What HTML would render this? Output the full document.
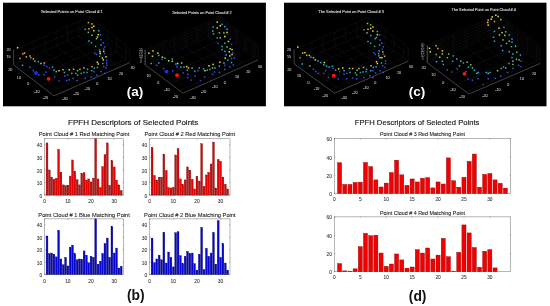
<!DOCTYPE html>
<html lang="en"><head><meta charset="utf-8"><title>FPFH Descriptors of Selected Points</title>
<style>html,body{margin:0;padding:0;background:#fff;}body{width:550px;height:306px;overflow:hidden;}</style>
</head><body>
<svg width="550" height="306" viewBox="0 0 550 306" style="display:block;font-family:'Liberation Sans', sans-serif">
<rect width="550" height="306" fill="#fff"/>
<rect x="3" y="2.7" width="262.9" height="103.6" fill="#000"/>
<rect x="284" y="2.7" width="262.5" height="103.6" fill="#000"/>
<g stroke="#191919" stroke-width="0.45" fill="none">
<path d="M14 57.2L89.8 23.9"/>
<path d="M89.8 23.9L129.8 55.4"/>
<path d="M14 50.0L89.8 16.7"/>
<path d="M89.8 16.7L129.8 48.2"/>
<path d="M14 64.4L89.8 31.1"/>
<path d="M89.8 31.1L129.8 62.6"/>
<path d="M89.8 31.1L89.8 16.7"/>
<path d="M129.8 62.6L129.8 48.2"/>
<path d="M22.19 60.8L22.19 46.4"/>
<path d="M62.19 92.3L22.19 60.8"/>
<path d="M33.52 55.83L33.52 41.43"/>
<path d="M73.52 87.33L33.52 55.83"/>
<path d="M44.85 50.85L44.85 36.45"/>
<path d="M84.85 82.35L44.85 50.85"/>
<path d="M56.18 45.87L56.18 31.47"/>
<path d="M96.18 77.37L56.18 45.87"/>
<path d="M67.51 40.89L67.51 26.49"/>
<path d="M107.51 72.39L67.51 40.89"/>
<path d="M78.85 35.91L78.85 21.51"/>
<path d="M118.85 67.41L78.85 35.91"/>
<path d="M98.84 38.22L98.84 23.82"/>
<path d="M23.04 71.52L98.84 38.22"/>
<path d="M107.72 45.21L107.72 30.81"/>
<path d="M31.92 78.51L107.72 45.21"/>
<path d="M116.6 52.2L116.6 37.8"/>
<path d="M40.8 85.51L116.6 52.2"/>
<path d="M125.48 59.2L125.48 44.8"/>
<path d="M49.68 92.5L125.48 59.2"/>
</g>
<g stroke="#808080" stroke-width="0.5" fill="none">
<path d="M13.6 49.7L13.6 64.9L54 95.9L129.8 62.6"/>
</g>
<text x="10.3" y="70.9" font-size="3.7" fill="#cacaca" text-anchor="middle" font-weight="normal" stroke="#cacaca" stroke-width="0.06">20</text>
<text x="18.9" y="78.5" font-size="3.7" fill="#cacaca" text-anchor="middle" font-weight="normal" stroke="#cacaca" stroke-width="0.06">10</text>
<text x="28.3" y="85.3" font-size="3.7" fill="#cacaca" text-anchor="middle" font-weight="normal" stroke="#cacaca" stroke-width="0.06">0</text>
<text x="36.9" y="92.5" font-size="3.7" fill="#cacaca" text-anchor="middle" font-weight="normal" stroke="#cacaca" stroke-width="0.06">-10</text>
<text x="45.5" y="99.2" font-size="3.7" fill="#cacaca" text-anchor="middle" font-weight="normal" stroke="#cacaca" stroke-width="0.06">-20</text>
<text x="65" y="100.1" font-size="3.7" fill="#cacaca" text-anchor="middle" font-weight="normal" stroke="#cacaca" stroke-width="0.06">-30</text>
<text x="76.2" y="95.2" font-size="3.7" fill="#cacaca" text-anchor="middle" font-weight="normal" stroke="#cacaca" stroke-width="0.06">-20</text>
<text x="87.5" y="90.2" font-size="3.7" fill="#cacaca" text-anchor="middle" font-weight="normal" stroke="#cacaca" stroke-width="0.06">-10</text>
<text x="97.4" y="85.2" font-size="3.7" fill="#cacaca" text-anchor="middle" font-weight="normal" stroke="#cacaca" stroke-width="0.06">0</text>
<text x="109.6" y="79.8" font-size="3.7" fill="#cacaca" text-anchor="middle" font-weight="normal" stroke="#cacaca" stroke-width="0.06">10</text>
<text x="121.1" y="74.5" font-size="3.7" fill="#cacaca" text-anchor="middle" font-weight="normal" stroke="#cacaca" stroke-width="0.06">20</text>
<text x="132.5" y="69.1" font-size="3.7" fill="#cacaca" text-anchor="middle" font-weight="normal" stroke="#cacaca" stroke-width="0.06">30</text>
<text x="8.5" y="50.9" font-size="3.7" fill="#cacaca" text-anchor="middle" font-weight="normal" stroke="#cacaca" stroke-width="0.06">20</text>
<text x="8.5" y="58.3" font-size="3.7" fill="#cacaca" text-anchor="middle" font-weight="normal" stroke="#cacaca" stroke-width="0.06">15</text>
<rect x="22.15" y="53.15" width="1.5" height="1.5" fill="#e8b030"/>
<rect x="23.85" y="52.35" width="1.5" height="1.5" fill="#e8b030"/>
<rect x="19.15" y="57.75" width="1.5" height="1.5" fill="#6ccb62"/>
<rect x="25.55" y="56.15" width="1.5" height="1.5" fill="#e8b030"/>
<rect x="29.15" y="55.25" width="1.5" height="1.5" fill="#e8b030"/>
<rect x="30.15" y="56.95" width="1.5" height="1.5" fill="#27acdc"/>
<rect x="32.65" y="58.15" width="1.5" height="1.5" fill="#e8b030"/>
<rect x="34.15" y="60.35" width="1.5" height="1.5" fill="#6ccb62"/>
<rect x="37.55" y="60.95" width="1.5" height="1.5" fill="#27acdc"/>
<rect x="40.25" y="62.75" width="1.5" height="1.5" fill="#b4d43a"/>
<rect x="43.65" y="62.25" width="1.5" height="1.5" fill="#e8b030"/>
<rect x="43.35" y="64.55" width="1.5" height="1.5" fill="#3650e6"/>
<rect x="46.05" y="65.85" width="1.5" height="1.5" fill="#3650e6"/>
<rect x="48.75" y="67.25" width="1.5" height="1.5" fill="#3650e6"/>
<rect x="51.75" y="66.35" width="1.5" height="1.5" fill="#27acdc"/>
<rect x="53.25" y="69.45" width="1.5" height="1.5" fill="#27acdc"/>
<rect x="55.55" y="70.85" width="1.5" height="1.5" fill="#6ccb62"/>
<rect x="58.25" y="69.95" width="1.5" height="1.5" fill="#efe021"/>
<rect x="62.25" y="69.05" width="1.5" height="1.5" fill="#e8b030"/>
<rect x="63.65" y="71.75" width="1.5" height="1.5" fill="#27acdc"/>
<rect x="68.55" y="69.05" width="1.5" height="1.5" fill="#efe021"/>
<rect x="21.75" y="64.55" width="1.5" height="1.5" fill="#27acdc"/>
<rect x="29.25" y="66.35" width="1.5" height="1.5" fill="#3650e6"/>
<rect x="32.55" y="69.95" width="1.5" height="1.5" fill="#3650e6"/>
<rect x="37.95" y="74.05" width="1.5" height="1.5" fill="#3650e6"/>
<rect x="43.35" y="74.05" width="1.5" height="1.5" fill="#3650e6"/>
<rect x="45.15" y="71.35" width="1.5" height="1.5" fill="#3650e6"/>
<rect x="53.75" y="76.25" width="1.5" height="1.5" fill="#3650e6"/>
<rect x="58.25" y="80.25" width="1.5" height="1.5" fill="#4b32cc"/>
<rect x="64.05" y="75.35" width="1.5" height="1.5" fill="#3650e6"/>
<rect x="68.55" y="78.95" width="1.5" height="1.5" fill="#3650e6"/>
<rect x="16.85" y="46.95" width="1.5" height="1.5" fill="#efe021"/>
<rect x="93.95" y="52.45" width="1.5" height="1.5" fill="#3650e6"/>
<rect x="99.35" y="51.05" width="1.5" height="1.5" fill="#efe021"/>
<rect x="102.95" y="50.65" width="1.5" height="1.5" fill="#efe021"/>
<rect x="98.95" y="55.55" width="1.5" height="1.5" fill="#20b0a0"/>
<rect x="101.65" y="57.35" width="1.5" height="1.5" fill="#efe021"/>
<rect x="105.25" y="56.05" width="1.5" height="1.5" fill="#efe021"/>
<rect x="102.55" y="59.15" width="1.5" height="1.5" fill="#efe021"/>
<rect x="105.95" y="59.65" width="1.5" height="1.5" fill="#3650e6"/>
<rect x="96.65" y="61.45" width="1.5" height="1.5" fill="#efe021"/>
<rect x="97.55" y="63.25" width="1.5" height="1.5" fill="#efe021"/>
<rect x="102.05" y="62.75" width="1.5" height="1.5" fill="#27acdc"/>
<rect x="105.95" y="62.25" width="1.5" height="1.5" fill="#3650e6"/>
<rect x="105.95" y="64.55" width="1.5" height="1.5" fill="#3650e6"/>
<rect x="91.25" y="65.85" width="1.5" height="1.5" fill="#e8b030"/>
<rect x="93.55" y="67.25" width="1.5" height="1.5" fill="#27acdc"/>
<rect x="96.65" y="66.75" width="1.5" height="1.5" fill="#27acdc"/>
<rect x="102.95" y="65.85" width="1.5" height="1.5" fill="#3650e6"/>
<rect x="105.25" y="67.25" width="1.5" height="1.5" fill="#3650e6"/>
<rect x="83.15" y="67.25" width="1.5" height="1.5" fill="#e8b030"/>
<rect x="79.15" y="68.65" width="1.5" height="1.5" fill="#e8b030"/>
<rect x="72.85" y="68.55" width="1.5" height="1.5" fill="#e8b030"/>
<rect x="86.75" y="68.55" width="1.5" height="1.5" fill="#27acdc"/>
<rect x="90.85" y="69.95" width="1.5" height="1.5" fill="#27acdc"/>
<rect x="76.85" y="69.95" width="1.5" height="1.5" fill="#6ccb62"/>
<rect x="71.05" y="72.65" width="1.5" height="1.5" fill="#27acdc"/>
<rect x="75.05" y="72.65" width="1.5" height="1.5" fill="#20b0a0"/>
<rect x="80.45" y="72.65" width="1.5" height="1.5" fill="#20b0a0"/>
<rect x="83.15" y="71.75" width="1.5" height="1.5" fill="#27acdc"/>
<rect x="86.25" y="71.75" width="1.5" height="1.5" fill="#20b0a0"/>
<rect x="93.05" y="70.85" width="1.5" height="1.5" fill="#3650e6"/>
<rect x="100.25" y="70.85" width="1.5" height="1.5" fill="#3650e6"/>
<rect x="103.85" y="72.65" width="1.5" height="1.5" fill="#3650e6"/>
<rect x="66.95" y="74.45" width="1.5" height="1.5" fill="#3650e6"/>
<rect x="76.85" y="74.45" width="1.5" height="1.5" fill="#20b0a0"/>
<rect x="72.35" y="77.65" width="1.5" height="1.5" fill="#3650e6"/>
<rect x="66.05" y="79.85" width="1.5" height="1.5" fill="#3650e6"/>
<rect x="76.45" y="79.85" width="1.5" height="1.5" fill="#3650e6"/>
<rect x="84.55" y="77.65" width="1.5" height="1.5" fill="#3650e6"/>
<rect x="90.35" y="76.25" width="1.5" height="1.5" fill="#3650e6"/>
<rect x="93.05" y="77.65" width="1.5" height="1.5" fill="#3650e6"/>
<rect x="96.15" y="74.45" width="1.5" height="1.5" fill="#3650e6"/>
<rect x="87.65" y="21.85" width="1.5" height="1.5" fill="#e8b030"/>
<rect x="91.25" y="23.15" width="1.5" height="1.5" fill="#b4d43a"/>
<rect x="93.05" y="25.45" width="1.5" height="1.5" fill="#efe021"/>
<rect x="91.25" y="26.75" width="1.5" height="1.5" fill="#efe021"/>
<rect x="88.15" y="28.05" width="1.5" height="1.5" fill="#e8b030"/>
<rect x="84.45" y="28.55" width="1.5" height="1.5" fill="#20b0a0"/>
<rect x="93.05" y="29.95" width="1.5" height="1.5" fill="#efe021"/>
<rect x="87.65" y="31.65" width="1.5" height="1.5" fill="#6ccb62"/>
<rect x="97.95" y="29.95" width="1.5" height="1.5" fill="#27acdc"/>
<rect x="91.25" y="34.45" width="1.5" height="1.5" fill="#6ccb62"/>
<rect x="97.55" y="33.95" width="1.5" height="1.5" fill="#efe021"/>
<rect x="99.75" y="33.95" width="1.5" height="1.5" fill="#3650e6"/>
<rect x="96.65" y="36.25" width="1.5" height="1.5" fill="#b4d43a"/>
<rect x="95.75" y="37.95" width="1.5" height="1.5" fill="#6ccb62"/>
<rect x="100.25" y="38.95" width="1.5" height="1.5" fill="#3650e6"/>
<rect x="88.15" y="40.25" width="1.5" height="1.5" fill="#27acdc"/>
<rect x="90.75" y="42.05" width="1.5" height="1.5" fill="#20b0a0"/>
<rect x="102.55" y="42.05" width="1.5" height="1.5" fill="#3650e6"/>
<rect x="100.25" y="44.25" width="1.5" height="1.5" fill="#27acdc"/>
<rect x="94.85" y="45.65" width="1.5" height="1.5" fill="#20b0a0"/>
<rect x="103.85" y="46.15" width="1.5" height="1.5" fill="#3650e6"/>
<rect x="102.95" y="48.35" width="1.5" height="1.5" fill="#3650e6"/>
<rect x="98.85" y="49.25" width="1.5" height="1.5" fill="#20b0a0"/>
<rect x="99.35" y="52.85" width="1.5" height="1.5" fill="#efe021"/>
<rect x="103.85" y="52.85" width="1.5" height="1.5" fill="#3650e6"/>
<rect x="95.75" y="53.75" width="1.5" height="1.5" fill="#3650e6"/>
<circle cx="36" cy="73" r="1.9" fill="#1030ff"/>
<circle cx="48.6" cy="78.8" r="1.9" fill="#ff1010"/>
<text x="71.8" y="12.6" font-size="4.0" fill="#d0d0d0" text-anchor="middle" font-weight="normal" stroke="#d0d0d0" stroke-width="0.16">Selected Points on Point Cloud # 1</text>
<g stroke="#191919" stroke-width="0.45" fill="none">
<path d="M145.3 61.9L220.3 28.6"/>
<path d="M220.3 28.6L258.1 56.9"/>
<path d="M145.3 58.9L220.3 25.6"/>
<path d="M220.3 25.6L258.1 53.9"/>
<path d="M145.3 55.9L220.3 22.6"/>
<path d="M220.3 22.6L258.1 50.9"/>
<path d="M145.3 52.9L220.3 19.6"/>
<path d="M220.3 19.6L258.1 47.9"/>
<path d="M145.3 50.0L220.3 16.7"/>
<path d="M220.3 16.7L258.1 45.0"/>
<path d="M145.3 64.9L220.3 31.6"/>
<path d="M220.3 31.6L258.1 59.9"/>
<path d="M220.3 31.6L220.3 16.7"/>
<path d="M258.1 59.9L258.1 45.0"/>
<path d="M152.12 61.87L152.12 46.97"/>
<path d="M189.93 90.17L152.12 61.87"/>
<path d="M163.35 56.88L163.35 41.98"/>
<path d="M201.15 85.18L163.35 56.88"/>
<path d="M174.58 51.9L174.58 37.0"/>
<path d="M212.38 80.2L174.58 51.9"/>
<path d="M185.81 46.91L185.81 32.01"/>
<path d="M223.61 75.21L185.81 46.91"/>
<path d="M197.04 41.93L197.04 27.03"/>
<path d="M234.84 70.23L197.04 41.93"/>
<path d="M208.26 36.94L208.26 22.04"/>
<path d="M246.06 65.24L208.26 36.94"/>
<path d="M227.48 36.98L227.48 22.08"/>
<path d="M152.48 70.28L227.48 36.98"/>
<path d="M236.55 43.77L236.55 28.87"/>
<path d="M161.55 77.07L236.55 43.77"/>
<path d="M245.63 50.56L245.63 35.66"/>
<path d="M170.63 83.86L245.63 50.56"/>
<path d="M254.55 57.24L254.55 42.34"/>
<path d="M179.55 90.54L254.55 57.24"/>
</g>
<g stroke="#808080" stroke-width="0.5" fill="none">
<path d="M145.3 50L145.3 64.9L183.1 93.2L258.1 59.9"/>
</g>
<text x="148.5" y="77.2" font-size="3.7" fill="#cacaca" text-anchor="middle" font-weight="normal" stroke="#cacaca" stroke-width="0.06">10</text>
<text x="158.3" y="84.4" font-size="3.7" fill="#cacaca" text-anchor="middle" font-weight="normal" stroke="#cacaca" stroke-width="0.06">0</text>
<text x="166.9" y="90.7" font-size="3.7" fill="#cacaca" text-anchor="middle" font-weight="normal" stroke="#cacaca" stroke-width="0.06">-10</text>
<text x="175.3" y="97.9" font-size="3.7" fill="#cacaca" text-anchor="middle" font-weight="normal" stroke="#cacaca" stroke-width="0.06">-20</text>
<text x="193" y="98.6" font-size="3.7" fill="#cacaca" text-anchor="middle" font-weight="normal" stroke="#cacaca" stroke-width="0.06">-30</text>
<text x="203.6" y="93.4" font-size="3.7" fill="#cacaca" text-anchor="middle" font-weight="normal" stroke="#cacaca" stroke-width="0.06">-20</text>
<text x="214.9" y="88.4" font-size="3.7" fill="#cacaca" text-anchor="middle" font-weight="normal" stroke="#cacaca" stroke-width="0.06">-10</text>
<text x="224.8" y="83.5" font-size="3.7" fill="#cacaca" text-anchor="middle" font-weight="normal" stroke="#cacaca" stroke-width="0.06">0</text>
<text x="237" y="78.1" font-size="3.7" fill="#cacaca" text-anchor="middle" font-weight="normal" stroke="#cacaca" stroke-width="0.06">10</text>
<text x="248.2" y="73.1" font-size="3.7" fill="#cacaca" text-anchor="middle" font-weight="normal" stroke="#cacaca" stroke-width="0.06">20</text>
<text x="259.9" y="67.7" font-size="3.7" fill="#cacaca" text-anchor="middle" font-weight="normal" stroke="#cacaca" stroke-width="0.06">30</text>
<text x="140.9" y="50.6" font-size="3.4" fill="#b0b0b0" text-anchor="middle" font-weight="normal" >25</text>
<path d="M145.3 51.00h-1.2" stroke="#999" stroke-width="0.4"/>
<text x="140.9" y="53.050000000000004" font-size="3.4" fill="#b0b0b0" text-anchor="middle" font-weight="normal" >20</text>
<path d="M145.3 53.60h-1.2" stroke="#999" stroke-width="0.4"/>
<text x="140.9" y="55.5" font-size="3.4" fill="#b0b0b0" text-anchor="middle" font-weight="normal" >15</text>
<path d="M145.3 56.20h-1.2" stroke="#999" stroke-width="0.4"/>
<text x="140.9" y="57.95" font-size="3.4" fill="#b0b0b0" text-anchor="middle" font-weight="normal" >10</text>
<path d="M145.3 58.80h-1.2" stroke="#999" stroke-width="0.4"/>
<text x="140.9" y="60.400000000000006" font-size="3.4" fill="#b0b0b0" text-anchor="middle" font-weight="normal" >5</text>
<path d="M145.3 61.40h-1.2" stroke="#999" stroke-width="0.4"/>
<text x="140.9" y="62.85" font-size="3.4" fill="#b0b0b0" text-anchor="middle" font-weight="normal" >0</text>
<path d="M145.3 64.00h-1.2" stroke="#999" stroke-width="0.4"/>
<rect x="152.25" y="50.15" width="1.5" height="1.5" fill="#efe021"/>
<rect x="148.15" y="52.45" width="1.5" height="1.5" fill="#efe021"/>
<rect x="157.15" y="52.45" width="1.5" height="1.5" fill="#efe021"/>
<rect x="151.75" y="55.55" width="1.5" height="1.5" fill="#b4d43a"/>
<rect x="158.05" y="54.65" width="1.5" height="1.5" fill="#27acdc"/>
<rect x="161.65" y="56.45" width="1.5" height="1.5" fill="#efe021"/>
<rect x="164.35" y="57.35" width="1.5" height="1.5" fill="#27acdc"/>
<rect x="161.25" y="58.65" width="1.5" height="1.5" fill="#3650e6"/>
<rect x="167.95" y="60.05" width="1.5" height="1.5" fill="#efe021"/>
<rect x="171.55" y="60.55" width="1.5" height="1.5" fill="#b4d43a"/>
<rect x="171.55" y="58.25" width="1.5" height="1.5" fill="#20b0a0"/>
<rect x="158.05" y="62.25" width="1.5" height="1.5" fill="#27acdc"/>
<rect x="150.45" y="62.75" width="1.5" height="1.5" fill="#27acdc"/>
<rect x="155.85" y="64.55" width="1.5" height="1.5" fill="#3650e6"/>
<rect x="175.15" y="63.25" width="1.5" height="1.5" fill="#27acdc"/>
<rect x="176.95" y="62.75" width="1.5" height="1.5" fill="#efe021"/>
<rect x="180.85" y="62.25" width="1.5" height="1.5" fill="#b4d43a"/>
<rect x="176.05" y="65.85" width="1.5" height="1.5" fill="#3650e6"/>
<rect x="180.15" y="66.35" width="1.5" height="1.5" fill="#27acdc"/>
<rect x="183.25" y="66.35" width="1.5" height="1.5" fill="#27acdc"/>
<rect x="185.95" y="65.85" width="1.5" height="1.5" fill="#efe021"/>
<rect x="187.75" y="67.25" width="1.5" height="1.5" fill="#efe021"/>
<rect x="186.45" y="69.45" width="1.5" height="1.5" fill="#27acdc"/>
<rect x="191.35" y="67.25" width="1.5" height="1.5" fill="#6ccb62"/>
<rect x="194.05" y="70.45" width="1.5" height="1.5" fill="#27acdc"/>
<rect x="198.55" y="67.25" width="1.5" height="1.5" fill="#27acdc"/>
<rect x="162.95" y="67.75" width="1.5" height="1.5" fill="#3650e6"/>
<rect x="172.05" y="69.95" width="1.5" height="1.5" fill="#3650e6"/>
<rect x="182.35" y="72.15" width="1.5" height="1.5" fill="#3650e6"/>
<rect x="187.15" y="73.55" width="1.5" height="1.5" fill="#3650e6"/>
<rect x="186.85" y="77.15" width="1.5" height="1.5" fill="#4b32cc"/>
<rect x="190.45" y="79.45" width="1.5" height="1.5" fill="#4b32cc"/>
<rect x="194.05" y="75.35" width="1.5" height="1.5" fill="#3650e6"/>
<rect x="224.05" y="50.65" width="1.5" height="1.5" fill="#27acdc"/>
<rect x="228.55" y="51.05" width="1.5" height="1.5" fill="#efe021"/>
<rect x="232.15" y="51.95" width="1.5" height="1.5" fill="#3650e6"/>
<rect x="225.45" y="54.25" width="1.5" height="1.5" fill="#27acdc"/>
<rect x="229.05" y="55.15" width="1.5" height="1.5" fill="#efe021"/>
<rect x="224.45" y="57.35" width="1.5" height="1.5" fill="#efe021"/>
<rect x="230.75" y="57.85" width="1.5" height="1.5" fill="#3650e6"/>
<rect x="233.55" y="57.35" width="1.5" height="1.5" fill="#3650e6"/>
<rect x="227.15" y="59.55" width="1.5" height="1.5" fill="#27acdc"/>
<rect x="219.15" y="61.45" width="1.5" height="1.5" fill="#efe021"/>
<rect x="223.15" y="62.25" width="1.5" height="1.5" fill="#27acdc"/>
<rect x="230.75" y="61.85" width="1.5" height="1.5" fill="#27acdc"/>
<rect x="232.55" y="64.15" width="1.5" height="1.5" fill="#3650e6"/>
<rect x="212.35" y="63.65" width="1.5" height="1.5" fill="#efe021"/>
<rect x="208.25" y="65.05" width="1.5" height="1.5" fill="#efe021"/>
<rect x="218.65" y="65.45" width="1.5" height="1.5" fill="#27acdc"/>
<rect x="224.05" y="64.55" width="1.5" height="1.5" fill="#3650e6"/>
<rect x="229.05" y="65.95" width="1.5" height="1.5" fill="#3650e6"/>
<rect x="197.05" y="69.95" width="1.5" height="1.5" fill="#3650e6"/>
<rect x="202.85" y="68.15" width="1.5" height="1.5" fill="#27acdc"/>
<rect x="204.25" y="69.95" width="1.5" height="1.5" fill="#efe021"/>
<rect x="206.45" y="69.45" width="1.5" height="1.5" fill="#27acdc"/>
<rect x="209.15" y="68.65" width="1.5" height="1.5" fill="#27acdc"/>
<rect x="211.85" y="67.25" width="1.5" height="1.5" fill="#6ccb62"/>
<rect x="214.15" y="67.25" width="1.5" height="1.5" fill="#27acdc"/>
<rect x="224.05" y="68.65" width="1.5" height="1.5" fill="#3650e6"/>
<rect x="218.65" y="71.75" width="1.5" height="1.5" fill="#3650e6"/>
<rect x="213.75" y="71.25" width="1.5" height="1.5" fill="#3650e6"/>
<rect x="211.85" y="73.55" width="1.5" height="1.5" fill="#3650e6"/>
<rect x="203.85" y="76.25" width="1.5" height="1.5" fill="#3650e6"/>
<rect x="199.75" y="79.85" width="1.5" height="1.5" fill="#4b32cc"/>
<rect x="216.45" y="21.35" width="1.5" height="1.5" fill="#efe021"/>
<rect x="221.35" y="23.65" width="1.5" height="1.5" fill="#27acdc"/>
<rect x="219.55" y="24.95" width="1.5" height="1.5" fill="#efe021"/>
<rect x="224.05" y="25.85" width="1.5" height="1.5" fill="#27acdc"/>
<rect x="212.35" y="26.25" width="1.5" height="1.5" fill="#20b0a0"/>
<rect x="216.45" y="27.25" width="1.5" height="1.5" fill="#b4d43a"/>
<rect x="226.25" y="28.55" width="1.5" height="1.5" fill="#27acdc"/>
<rect x="211.95" y="30.35" width="1.5" height="1.5" fill="#27acdc"/>
<rect x="218.65" y="32.15" width="1.5" height="1.5" fill="#6ccb62"/>
<rect x="223.15" y="32.15" width="1.5" height="1.5" fill="#6ccb62"/>
<rect x="226.25" y="31.75" width="1.5" height="1.5" fill="#efe021"/>
<rect x="212.75" y="33.05" width="1.5" height="1.5" fill="#27acdc"/>
<rect x="224.05" y="35.75" width="1.5" height="1.5" fill="#efe021"/>
<rect x="216.45" y="37.05" width="1.5" height="1.5" fill="#20b0a0"/>
<rect x="219.55" y="37.05" width="1.5" height="1.5" fill="#6ccb62"/>
<rect x="229.45" y="38.45" width="1.5" height="1.5" fill="#3650e6"/>
<rect x="227.65" y="40.75" width="1.5" height="1.5" fill="#efe021"/>
<rect x="217.35" y="42.45" width="1.5" height="1.5" fill="#3650e6"/>
<rect x="224.05" y="42.45" width="1.5" height="1.5" fill="#27acdc"/>
<rect x="230.75" y="43.45" width="1.5" height="1.5" fill="#4b32cc"/>
<rect x="221.35" y="45.65" width="1.5" height="1.5" fill="#27acdc"/>
<rect x="226.25" y="46.15" width="1.5" height="1.5" fill="#6ccb62"/>
<rect x="229.45" y="47.95" width="1.5" height="1.5" fill="#b4d43a"/>
<rect x="221.35" y="48.85" width="1.5" height="1.5" fill="#27acdc"/>
<rect x="231.25" y="48.85" width="1.5" height="1.5" fill="#efe021"/>
<rect x="231.25" y="53.75" width="1.5" height="1.5" fill="#efe021"/>
<circle cx="166.5" cy="71.6" r="1.9" fill="#1030ff"/>
<circle cx="177.1" cy="75.2" r="1.9" fill="#ff1010"/>
<text x="202" y="13.6" font-size="3.85" fill="#d0d0d0" text-anchor="middle" font-weight="normal" stroke="#d0d0d0" stroke-width="0.16">Selected Points on Point Cloud # 2</text>
<g stroke="#191919" stroke-width="0.45" fill="none">
<path d="M294.2 56.8L368.0 24.8"/>
<path d="M368.0 24.8L408.3 54.0"/>
<path d="M294.2 49.5L368.0 17.5"/>
<path d="M368.0 17.5L408.3 46.7"/>
<path d="M294.2 64L368.0 32.0"/>
<path d="M368.0 32.0L408.3 61.2"/>
<path d="M368.0 32.0L368.0 17.5"/>
<path d="M408.3 61.2L408.3 46.7"/>
<path d="M300.84 61.12L300.84 46.62"/>
<path d="M341.14 90.32L300.84 61.12"/>
<path d="M312.04 56.27L312.04 41.77"/>
<path d="M352.34 85.47L312.04 56.27"/>
<path d="M323.23 51.41L323.23 36.91"/>
<path d="M363.53 80.61L323.23 51.41"/>
<path d="M334.43 46.56L334.43 32.06"/>
<path d="M374.73 75.76L334.43 46.56"/>
<path d="M345.62 41.7L345.62 27.2"/>
<path d="M385.92 70.9L345.62 41.7"/>
<path d="M356.82 36.85L356.82 22.35"/>
<path d="M397.12 66.05L356.82 36.85"/>
<path d="M376.26 37.99L376.26 23.49"/>
<path d="M302.46 69.99L376.26 37.99"/>
<path d="M385.25 44.5L385.25 30.0"/>
<path d="M311.45 76.5L385.25 44.5"/>
<path d="M394.28 51.04L394.28 36.54"/>
<path d="M320.48 83.04L394.28 51.04"/>
<path d="M403.26 57.55L403.26 43.05"/>
<path d="M329.46 89.55L403.26 57.55"/>
</g>
<g stroke="#808080" stroke-width="0.5" fill="none">
<path d="M294 49.5L294.2 64L334.5 93.2L408.3 61.2"/>
</g>
<text x="289.2" y="70.9" font-size="3.7" fill="#cacaca" text-anchor="middle" font-weight="normal" stroke="#cacaca" stroke-width="0.06">20</text>
<text x="299.1" y="77.2" font-size="3.7" fill="#cacaca" text-anchor="middle" font-weight="normal" stroke="#cacaca" stroke-width="0.06">10</text>
<text x="308.5" y="83.9" font-size="3.7" fill="#cacaca" text-anchor="middle" font-weight="normal" stroke="#cacaca" stroke-width="0.06">0</text>
<text x="316.6" y="90.2" font-size="3.7" fill="#cacaca" text-anchor="middle" font-weight="normal" stroke="#cacaca" stroke-width="0.06">-10</text>
<text x="325.2" y="96.9" font-size="3.7" fill="#cacaca" text-anchor="middle" font-weight="normal" stroke="#cacaca" stroke-width="0.06">-20</text>
<text x="344.1" y="98.6" font-size="3.7" fill="#cacaca" text-anchor="middle" font-weight="normal" stroke="#cacaca" stroke-width="0.06">-30</text>
<text x="354.9" y="93.8" font-size="3.7" fill="#cacaca" text-anchor="middle" font-weight="normal" stroke="#cacaca" stroke-width="0.06">-20</text>
<text x="366" y="88.8" font-size="3.7" fill="#cacaca" text-anchor="middle" font-weight="normal" stroke="#cacaca" stroke-width="0.06">-10</text>
<text x="375.2" y="83.9" font-size="3.7" fill="#cacaca" text-anchor="middle" font-weight="normal" stroke="#cacaca" stroke-width="0.06">0</text>
<text x="387.6" y="78.5" font-size="3.7" fill="#cacaca" text-anchor="middle" font-weight="normal" stroke="#cacaca" stroke-width="0.06">10</text>
<text x="399" y="73.5" font-size="3.7" fill="#cacaca" text-anchor="middle" font-weight="normal" stroke="#cacaca" stroke-width="0.06">20</text>
<text x="410.7" y="68.1" font-size="3.7" fill="#cacaca" text-anchor="middle" font-weight="normal" stroke="#cacaca" stroke-width="0.06">30</text>
<text x="289" y="50.7" font-size="3.7" fill="#cacaca" text-anchor="middle" font-weight="normal" stroke="#cacaca" stroke-width="0.06">20</text>
<text x="289" y="57.8" font-size="3.7" fill="#cacaca" text-anchor="middle" font-weight="normal" stroke="#cacaca" stroke-width="0.06">15</text>
<rect x="301.95" y="52.35" width="1.5" height="1.5" fill="#e8b030"/>
<rect x="304.15" y="51.95" width="1.5" height="1.5" fill="#efe021"/>
<rect x="305.95" y="54.65" width="1.5" height="1.5" fill="#e8b030"/>
<rect x="308.65" y="54.65" width="1.5" height="1.5" fill="#efe021"/>
<rect x="299.25" y="56.95" width="1.5" height="1.5" fill="#20b0a0"/>
<rect x="310.05" y="56.45" width="1.5" height="1.5" fill="#27acdc"/>
<rect x="312.75" y="56.95" width="1.5" height="1.5" fill="#e8b030"/>
<rect x="314.55" y="59.15" width="1.5" height="1.5" fill="#efe021"/>
<rect x="317.25" y="60.05" width="1.5" height="1.5" fill="#27acdc"/>
<rect x="319.95" y="61.85" width="1.5" height="1.5" fill="#27acdc"/>
<rect x="323.55" y="61.85" width="1.5" height="1.5" fill="#efe021"/>
<rect x="323.05" y="64.05" width="1.5" height="1.5" fill="#27acdc"/>
<rect x="325.85" y="65.45" width="1.5" height="1.5" fill="#27acdc"/>
<rect x="328.35" y="66.35" width="1.5" height="1.5" fill="#27acdc"/>
<rect x="331.65" y="65.45" width="1.5" height="1.5" fill="#27acdc"/>
<rect x="332.55" y="67.65" width="1.5" height="1.5" fill="#3650e6"/>
<rect x="334.85" y="69.45" width="1.5" height="1.5" fill="#27acdc"/>
<rect x="337.95" y="68.15" width="1.5" height="1.5" fill="#efe021"/>
<rect x="338.85" y="70.85" width="1.5" height="1.5" fill="#3650e6"/>
<rect x="342.05" y="67.25" width="1.5" height="1.5" fill="#efe021"/>
<rect x="343.35" y="69.95" width="1.5" height="1.5" fill="#27acdc"/>
<rect x="348.75" y="67.75" width="1.5" height="1.5" fill="#e8b030"/>
<rect x="349.25" y="71.75" width="1.5" height="1.5" fill="#27acdc"/>
<rect x="346.05" y="72.65" width="1.5" height="1.5" fill="#3650e6"/>
<rect x="301.55" y="63.25" width="1.5" height="1.5" fill="#27acdc"/>
<rect x="309.15" y="65.05" width="1.5" height="1.5" fill="#27acdc"/>
<rect x="312.75" y="68.65" width="1.5" height="1.5" fill="#3650e6"/>
<rect x="314.95" y="70.85" width="1.5" height="1.5" fill="#3650e6"/>
<rect x="317.75" y="72.65" width="1.5" height="1.5" fill="#3650e6"/>
<rect x="323.05" y="72.65" width="1.5" height="1.5" fill="#3650e6"/>
<rect x="324.95" y="69.95" width="1.5" height="1.5" fill="#3650e6"/>
<rect x="327.65" y="76.65" width="1.5" height="1.5" fill="#3650e6"/>
<rect x="337.55" y="78.05" width="1.5" height="1.5" fill="#3650e6"/>
<rect x="345.65" y="78.05" width="1.5" height="1.5" fill="#3650e6"/>
<rect x="343.35" y="73.55" width="1.5" height="1.5" fill="#3650e6"/>
<rect x="297.05" y="46.35" width="1.5" height="1.5" fill="#efe021"/>
<rect x="373.05" y="51.95" width="1.5" height="1.5" fill="#3650e6"/>
<rect x="378.45" y="50.15" width="1.5" height="1.5" fill="#27acdc"/>
<rect x="382.05" y="51.05" width="1.5" height="1.5" fill="#e8b030"/>
<rect x="378.05" y="55.05" width="1.5" height="1.5" fill="#27acdc"/>
<rect x="381.15" y="56.95" width="1.5" height="1.5" fill="#efe021"/>
<rect x="383.85" y="55.55" width="1.5" height="1.5" fill="#e8b030"/>
<rect x="384.75" y="60.05" width="1.5" height="1.5" fill="#3650e6"/>
<rect x="375.75" y="60.95" width="1.5" height="1.5" fill="#efe021"/>
<rect x="376.65" y="62.75" width="1.5" height="1.5" fill="#efe021"/>
<rect x="380.75" y="62.25" width="1.5" height="1.5" fill="#27acdc"/>
<rect x="384.75" y="62.75" width="1.5" height="1.5" fill="#3650e6"/>
<rect x="370.35" y="65.05" width="1.5" height="1.5" fill="#e8b030"/>
<rect x="372.65" y="66.75" width="1.5" height="1.5" fill="#27acdc"/>
<rect x="375.35" y="65.95" width="1.5" height="1.5" fill="#27acdc"/>
<rect x="382.05" y="65.05" width="1.5" height="1.5" fill="#3650e6"/>
<rect x="384.25" y="66.75" width="1.5" height="1.5" fill="#3650e6"/>
<rect x="362.75" y="66.75" width="1.5" height="1.5" fill="#e8b030"/>
<rect x="358.25" y="67.75" width="1.5" height="1.5" fill="#e8b030"/>
<rect x="351.95" y="67.75" width="1.5" height="1.5" fill="#e8b030"/>
<rect x="365.85" y="68.65" width="1.5" height="1.5" fill="#27acdc"/>
<rect x="369.95" y="69.95" width="1.5" height="1.5" fill="#27acdc"/>
<rect x="356.35" y="69.55" width="1.5" height="1.5" fill="#6ccb62"/>
<rect x="354.55" y="72.15" width="1.5" height="1.5" fill="#20b0a0"/>
<rect x="359.55" y="71.75" width="1.5" height="1.5" fill="#20b0a0"/>
<rect x="362.25" y="71.25" width="1.5" height="1.5" fill="#27acdc"/>
<rect x="365.35" y="70.85" width="1.5" height="1.5" fill="#20b0a0"/>
<rect x="372.15" y="69.95" width="1.5" height="1.5" fill="#3650e6"/>
<rect x="379.35" y="69.95" width="1.5" height="1.5" fill="#3650e6"/>
<rect x="382.55" y="71.75" width="1.5" height="1.5" fill="#3650e6"/>
<rect x="355.95" y="73.95" width="1.5" height="1.5" fill="#20b0a0"/>
<rect x="351.85" y="77.15" width="1.5" height="1.5" fill="#3650e6"/>
<rect x="355.95" y="78.05" width="1.5" height="1.5" fill="#3650e6"/>
<rect x="363.15" y="76.75" width="1.5" height="1.5" fill="#3650e6"/>
<rect x="369.05" y="74.95" width="1.5" height="1.5" fill="#3650e6"/>
<rect x="372.15" y="76.75" width="1.5" height="1.5" fill="#3650e6"/>
<rect x="374.85" y="72.25" width="1.5" height="1.5" fill="#3650e6"/>
<rect x="366.75" y="22.75" width="1.5" height="1.5" fill="#e8b030"/>
<rect x="369.95" y="24.05" width="1.5" height="1.5" fill="#6ccb62"/>
<rect x="372.15" y="26.25" width="1.5" height="1.5" fill="#efe021"/>
<rect x="369.95" y="27.65" width="1.5" height="1.5" fill="#efe021"/>
<rect x="367.25" y="28.55" width="1.5" height="1.5" fill="#e8b030"/>
<rect x="363.15" y="29.05" width="1.5" height="1.5" fill="#20b0a0"/>
<rect x="372.15" y="30.35" width="1.5" height="1.5" fill="#efe021"/>
<rect x="366.25" y="32.15" width="1.5" height="1.5" fill="#6ccb62"/>
<rect x="376.65" y="30.75" width="1.5" height="1.5" fill="#27acdc"/>
<rect x="369.95" y="34.85" width="1.5" height="1.5" fill="#27acdc"/>
<rect x="376.65" y="33.95" width="1.5" height="1.5" fill="#efe021"/>
<rect x="378.85" y="34.25" width="1.5" height="1.5" fill="#3650e6"/>
<rect x="375.75" y="36.65" width="1.5" height="1.5" fill="#20b0a0"/>
<rect x="374.45" y="37.95" width="1.5" height="1.5" fill="#27acdc"/>
<rect x="379.35" y="39.35" width="1.5" height="1.5" fill="#3650e6"/>
<rect x="367.25" y="40.75" width="1.5" height="1.5" fill="#27acdc"/>
<rect x="369.95" y="42.45" width="1.5" height="1.5" fill="#20b0a0"/>
<rect x="381.15" y="42.45" width="1.5" height="1.5" fill="#3650e6"/>
<rect x="378.85" y="44.25" width="1.5" height="1.5" fill="#27acdc"/>
<rect x="373.95" y="45.65" width="1.5" height="1.5" fill="#20b0a0"/>
<rect x="382.55" y="46.15" width="1.5" height="1.5" fill="#3650e6"/>
<rect x="381.55" y="48.35" width="1.5" height="1.5" fill="#3650e6"/>
<rect x="377.95" y="52.85" width="1.5" height="1.5" fill="#27acdc"/>
<rect x="382.55" y="53.25" width="1.5" height="1.5" fill="#3650e6"/>
<rect x="374.45" y="53.75" width="1.5" height="1.5" fill="#3650e6"/>
<rect x="379.35" y="56.95" width="1.5" height="1.5" fill="#efe021"/>
<circle cx="333.8" cy="75.7" r="1.9" fill="#ff1010"/>
<text x="351.1" y="13.15" font-size="3.87" fill="#d0d0d0" text-anchor="middle" font-weight="normal" stroke="#d0d0d0" stroke-width="0.16">The Selected Point on Point Cloud # 3</text>
<g stroke="#191919" stroke-width="0.45" fill="none">
<path d="M428 60L498.9 29.4"/>
<path d="M498.9 29.4L539.9 60.5"/>
<path d="M428 57L498.9 26.4"/>
<path d="M498.9 26.4L539.9 57.5"/>
<path d="M428 54L498.9 23.4"/>
<path d="M498.9 23.4L539.9 54.5"/>
<path d="M428 51L498.9 20.4"/>
<path d="M498.9 20.4L539.9 51.5"/>
<path d="M428 48L498.9 17.4"/>
<path d="M498.9 17.4L539.9 48.5"/>
<path d="M428 45L498.9 14.4"/>
<path d="M498.9 14.4L539.9 45.5"/>
<path d="M428 63L498.9 32.4"/>
<path d="M498.9 32.4L539.9 63.5"/>
<path d="M498.9 32.4L498.9 14.4"/>
<path d="M539.9 63.5L539.9 45.5"/>
<path d="M441.19 57.31L441.19 39.31"/>
<path d="M482.19 88.41L441.19 57.31"/>
<path d="M453.52 51.98L453.52 33.98"/>
<path d="M494.52 83.08L453.52 51.98"/>
<path d="M465.86 46.66L465.86 28.66"/>
<path d="M506.86 77.76L465.86 46.66"/>
<path d="M478.2 41.34L478.2 23.34"/>
<path d="M519.2 72.44L478.2 41.34"/>
<path d="M490.53 36.01L490.53 18.01"/>
<path d="M531.53 67.11L490.53 36.01"/>
<path d="M507.8 39.15L507.8 21.15"/>
<path d="M436.9 69.75L507.8 39.15"/>
<path d="M517.47 46.49L517.47 28.49"/>
<path d="M446.57 77.09L517.47 46.49"/>
<path d="M527.19 53.86L527.19 35.86"/>
<path d="M456.29 84.46L527.19 53.86"/>
<path d="M536.91 61.23L536.91 43.23"/>
<path d="M466.01 91.83L536.91 61.23"/>
</g>
<g stroke="#808080" stroke-width="0.5" fill="none">
<path d="M427.4 45.2L427.4 62.8L469 94.1L539.9 63.5"/>
</g>
<text x="423.5" y="68.6" font-size="3.7" fill="#cacaca" text-anchor="middle" font-weight="normal" stroke="#cacaca" stroke-width="0.06">20</text>
<text x="433.4" y="75.8" font-size="3.7" fill="#cacaca" text-anchor="middle" font-weight="normal" stroke="#cacaca" stroke-width="0.06">10</text>
<text x="443.3" y="83.5" font-size="3.7" fill="#cacaca" text-anchor="middle" font-weight="normal" stroke="#cacaca" stroke-width="0.06">0</text>
<text x="452.8" y="90.7" font-size="3.7" fill="#cacaca" text-anchor="middle" font-weight="normal" stroke="#cacaca" stroke-width="0.06">-10</text>
<text x="462.2" y="98.3" font-size="3.7" fill="#cacaca" text-anchor="middle" font-weight="normal" stroke="#cacaca" stroke-width="0.06">-20</text>
<text x="485" y="96.5" font-size="3.7" fill="#cacaca" text-anchor="middle" font-weight="normal" stroke="#cacaca" stroke-width="0.06">-20</text>
<text x="498" y="90.7" font-size="3.7" fill="#cacaca" text-anchor="middle" font-weight="normal" stroke="#cacaca" stroke-width="0.06">-10</text>
<text x="508.4" y="85.7" font-size="3.7" fill="#cacaca" text-anchor="middle" font-weight="normal" stroke="#cacaca" stroke-width="0.06">0</text>
<text x="521.9" y="79.9" font-size="3.7" fill="#cacaca" text-anchor="middle" font-weight="normal" stroke="#cacaca" stroke-width="0.06">10</text>
<text x="534.1" y="74.5" font-size="3.7" fill="#cacaca" text-anchor="middle" font-weight="normal" stroke="#cacaca" stroke-width="0.06">20</text>
<text x="422.6" y="46.2" font-size="3.4" fill="#b0b0b0" text-anchor="middle" font-weight="normal" >30</text>
<path d="M427.4 46.20h-1.2" stroke="#999" stroke-width="0.4"/>
<text x="422.6" y="48.95" font-size="3.4" fill="#b0b0b0" text-anchor="middle" font-weight="normal" >25</text>
<path d="M427.4 49.10h-1.2" stroke="#999" stroke-width="0.4"/>
<text x="422.6" y="51.7" font-size="3.4" fill="#b0b0b0" text-anchor="middle" font-weight="normal" >20</text>
<path d="M427.4 52.00h-1.2" stroke="#999" stroke-width="0.4"/>
<text x="422.6" y="54.45" font-size="3.4" fill="#b0b0b0" text-anchor="middle" font-weight="normal" >15</text>
<path d="M427.4 54.90h-1.2" stroke="#999" stroke-width="0.4"/>
<text x="422.6" y="57.2" font-size="3.4" fill="#b0b0b0" text-anchor="middle" font-weight="normal" >10</text>
<path d="M427.4 57.80h-1.2" stroke="#999" stroke-width="0.4"/>
<text x="422.6" y="59.95" font-size="3.4" fill="#b0b0b0" text-anchor="middle" font-weight="normal" >5</text>
<path d="M427.4 60.70h-1.2" stroke="#999" stroke-width="0.4"/>
<rect x="429.55" y="51.05" width="1.5" height="1.5" fill="#efe021"/>
<rect x="441.65" y="50.15" width="1.5" height="1.5" fill="#efe021"/>
<rect x="435.35" y="53.75" width="1.5" height="1.5" fill="#6ccb62"/>
<rect x="447.95" y="53.25" width="1.5" height="1.5" fill="#6ccb62"/>
<rect x="452.45" y="55.15" width="1.5" height="1.5" fill="#27acdc"/>
<rect x="438.95" y="56.45" width="1.5" height="1.5" fill="#b4d43a"/>
<rect x="446.65" y="56.95" width="1.5" height="1.5" fill="#6ccb62"/>
<rect x="456.05" y="58.25" width="1.5" height="1.5" fill="#27acdc"/>
<rect x="435.75" y="60.95" width="1.5" height="1.5" fill="#27acdc"/>
<rect x="441.65" y="60.45" width="1.5" height="1.5" fill="#27acdc"/>
<rect x="451.85" y="60.45" width="1.5" height="1.5" fill="#27acdc"/>
<rect x="459.95" y="60.45" width="1.5" height="1.5" fill="#6ccb62"/>
<rect x="442.55" y="63.65" width="1.5" height="1.5" fill="#27acdc"/>
<rect x="462.65" y="62.25" width="1.5" height="1.5" fill="#27acdc"/>
<rect x="466.45" y="61.45" width="1.5" height="1.5" fill="#6ccb62"/>
<rect x="458.75" y="65.05" width="1.5" height="1.5" fill="#27acdc"/>
<rect x="470.05" y="64.05" width="1.5" height="1.5" fill="#6ccb62"/>
<rect x="467.75" y="66.35" width="1.5" height="1.5" fill="#27acdc"/>
<rect x="471.65" y="67.25" width="1.5" height="1.5" fill="#6ccb62"/>
<rect x="456.35" y="68.15" width="1.5" height="1.5" fill="#3650e6"/>
<rect x="473.65" y="69.45" width="1.5" height="1.5" fill="#27acdc"/>
<rect x="477.65" y="71.75" width="1.5" height="1.5" fill="#27acdc"/>
<rect x="446.45" y="69.05" width="1.5" height="1.5" fill="#3650e6"/>
<rect x="450.95" y="71.25" width="1.5" height="1.5" fill="#4b32cc"/>
<rect x="465.55" y="70.85" width="1.5" height="1.5" fill="#3650e6"/>
<rect x="467.15" y="78.45" width="1.5" height="1.5" fill="#3650e6"/>
<rect x="471.65" y="79.45" width="1.5" height="1.5" fill="#3650e6"/>
<rect x="477.25" y="78.05" width="1.5" height="1.5" fill="#3650e6"/>
<rect x="501.85" y="49.75" width="1.5" height="1.5" fill="#27acdc"/>
<rect x="508.55" y="51.05" width="1.5" height="1.5" fill="#27acdc"/>
<rect x="516.05" y="51.55" width="1.5" height="1.5" fill="#6ccb62"/>
<rect x="512.15" y="53.25" width="1.5" height="1.5" fill="#27acdc"/>
<rect x="519.65" y="54.25" width="1.5" height="1.5" fill="#27acdc"/>
<rect x="511.25" y="56.85" width="1.5" height="1.5" fill="#27acdc"/>
<rect x="515.75" y="58.65" width="1.5" height="1.5" fill="#6ccb62"/>
<rect x="518.45" y="59.15" width="1.5" height="1.5" fill="#6ccb62"/>
<rect x="512.15" y="60.45" width="1.5" height="1.5" fill="#6ccb62"/>
<rect x="520.25" y="60.45" width="1.5" height="1.5" fill="#3650e6"/>
<rect x="508.15" y="62.75" width="1.5" height="1.5" fill="#27acdc"/>
<rect x="512.15" y="63.65" width="1.5" height="1.5" fill="#6ccb62"/>
<rect x="517.85" y="64.55" width="1.5" height="1.5" fill="#3650e6"/>
<rect x="520.25" y="65.85" width="1.5" height="1.5" fill="#4b32cc"/>
<rect x="502.75" y="66.35" width="1.5" height="1.5" fill="#27acdc"/>
<rect x="504.95" y="67.25" width="1.5" height="1.5" fill="#6ccb62"/>
<rect x="500.45" y="67.75" width="1.5" height="1.5" fill="#27acdc"/>
<rect x="512.15" y="67.75" width="1.5" height="1.5" fill="#3650e6"/>
<rect x="496.85" y="69.95" width="1.5" height="1.5" fill="#b4d43a"/>
<rect x="506.75" y="71.75" width="1.5" height="1.5" fill="#3650e6"/>
<rect x="485.55" y="71.75" width="1.5" height="1.5" fill="#27acdc"/>
<rect x="487.45" y="72.65" width="1.5" height="1.5" fill="#6ccb62"/>
<rect x="489.25" y="71.75" width="1.5" height="1.5" fill="#27acdc"/>
<rect x="476.15" y="72.65" width="1.5" height="1.5" fill="#6ccb62"/>
<rect x="499.95" y="75.35" width="1.5" height="1.5" fill="#3650e6"/>
<rect x="494.55" y="77.55" width="1.5" height="1.5" fill="#3650e6"/>
<rect x="487.45" y="78.05" width="1.5" height="1.5" fill="#3650e6"/>
<rect x="482.45" y="83.95" width="1.5" height="1.5" fill="#4b32cc"/>
<rect x="495.05" y="14.45" width="1.5" height="1.5" fill="#efe021"/>
<rect x="497.35" y="15.75" width="1.5" height="1.5" fill="#efe021"/>
<rect x="491.45" y="16.15" width="1.5" height="1.5" fill="#efe021"/>
<rect x="490.55" y="18.45" width="1.5" height="1.5" fill="#efe021"/>
<rect x="487.45" y="19.35" width="1.5" height="1.5" fill="#e8b030"/>
<rect x="500.05" y="18.85" width="1.5" height="1.5" fill="#e8b030"/>
<rect x="493.75" y="20.75" width="1.5" height="1.5" fill="#e8b030"/>
<rect x="486.95" y="21.65" width="1.5" height="1.5" fill="#efe021"/>
<rect x="487.45" y="24.35" width="1.5" height="1.5" fill="#efe021"/>
<rect x="503.15" y="26.55" width="1.5" height="1.5" fill="#20b0a0"/>
<rect x="498.25" y="27.45" width="1.5" height="1.5" fill="#efe021"/>
<rect x="493.75" y="30.65" width="1.5" height="1.5" fill="#20b0a0"/>
<rect x="504.95" y="31.05" width="1.5" height="1.5" fill="#6ccb62"/>
<rect x="501.35" y="31.95" width="1.5" height="1.5" fill="#b4d43a"/>
<rect x="498.65" y="34.15" width="1.5" height="1.5" fill="#b4d43a"/>
<rect x="504.05" y="34.65" width="1.5" height="1.5" fill="#b4d43a"/>
<rect x="508.55" y="34.25" width="1.5" height="1.5" fill="#27acdc"/>
<rect x="492.75" y="36.45" width="1.5" height="1.5" fill="#27acdc"/>
<rect x="511.25" y="38.25" width="1.5" height="1.5" fill="#27acdc"/>
<rect x="502.25" y="39.15" width="1.5" height="1.5" fill="#6ccb62"/>
<rect x="493.75" y="40.45" width="1.5" height="1.5" fill="#27acdc"/>
<rect x="508.55" y="40.45" width="1.5" height="1.5" fill="#6ccb62"/>
<rect x="511.25" y="41.45" width="1.5" height="1.5" fill="#27acdc"/>
<rect x="505.85" y="42.75" width="1.5" height="1.5" fill="#6ccb62"/>
<rect x="500.45" y="45.05" width="1.5" height="1.5" fill="#27acdc"/>
<rect x="510.75" y="45.95" width="1.5" height="1.5" fill="#27acdc"/>
<rect x="514.85" y="45.45" width="1.5" height="1.5" fill="#6ccb62"/>
<rect x="435.35" y="45.05" width="1.5" height="1.5" fill="#e8b030"/>
<rect x="428.65" y="47.55" width="1.5" height="1.5" fill="#efe021"/>
<rect x="437.15" y="47.75" width="1.5" height="1.5" fill="#e8b030"/>
<rect x="441.65" y="53.15" width="1.5" height="1.5" fill="#b4d43a"/>
<circle cx="464.5" cy="73.8" r="1.9" fill="#ff1010"/>
<text x="483.7" y="11.25" font-size="3.8" fill="#d0d0d0" text-anchor="middle" font-weight="normal" stroke="#d0d0d0" stroke-width="0.16">The Selected Point on Point Cloud # 4</text>
<text x="135" y="96.2" font-size="13.5" fill="#fff" text-anchor="middle" font-weight="bold" >(a)</text>
<text x="416.9" y="96.2" font-size="13.5" fill="#fff" text-anchor="middle" font-weight="bold" >(c)</text>
<text x="135.7" y="299.9" font-size="13.8" fill="#111" text-anchor="middle" font-weight="bold" >(b)</text>
<text x="417.6" y="300.5" font-size="13.8" fill="#111" text-anchor="middle" font-weight="bold" >(d)</text>
<text x="133.2" y="125.1" font-size="8.0" fill="#1a1a1a" text-anchor="middle" font-weight="normal" stroke="#1a1a1a" stroke-width="0.15">FPFH Descriptors of Selected Points</text>
<text x="417.1" y="124.5" font-size="7.66" fill="#1a1a1a" text-anchor="middle" font-weight="normal" stroke="#1a1a1a" stroke-width="0.15">FPFH Descriptors of Selected Points</text>
<g fill="#e40404" stroke="#5a0000" stroke-width="0.32">
<rect x="46.10" y="142.91" width="1.84" height="52.19"/>
<rect x="48.42" y="169.94" width="1.84" height="25.16"/>
<rect x="50.73" y="177.16" width="1.84" height="17.94"/>
<rect x="53.05" y="179.28" width="1.84" height="15.82"/>
<rect x="55.37" y="178.16" width="1.84" height="16.94"/>
<rect x="57.69" y="149.39" width="1.84" height="45.71"/>
<rect x="60.00" y="172.18" width="1.84" height="22.92"/>
<rect x="62.32" y="184.89" width="1.84" height="10.21"/>
<rect x="64.64" y="185.76" width="1.84" height="9.34"/>
<rect x="66.96" y="185.14" width="1.84" height="9.96"/>
<rect x="69.27" y="176.04" width="1.84" height="19.06"/>
<rect x="71.59" y="159.97" width="1.84" height="35.13"/>
<rect x="73.91" y="171.31" width="1.84" height="23.79"/>
<rect x="76.23" y="179.78" width="1.84" height="15.32"/>
<rect x="78.54" y="184.89" width="1.84" height="10.21"/>
<rect x="80.86" y="173.43" width="1.84" height="21.67"/>
<rect x="83.18" y="172.80" width="1.84" height="22.30"/>
<rect x="85.50" y="180.15" width="1.84" height="14.95"/>
<rect x="87.82" y="178.91" width="1.84" height="16.19"/>
<rect x="90.13" y="181.90" width="1.84" height="13.20"/>
<rect x="92.45" y="178.16" width="1.84" height="16.94"/>
<rect x="94.77" y="138.80" width="1.84" height="56.30"/>
<rect x="97.09" y="178.91" width="1.84" height="16.19"/>
<rect x="99.40" y="187.50" width="1.84" height="7.60"/>
<rect x="101.72" y="166.70" width="1.84" height="28.40"/>
<rect x="104.04" y="154.74" width="1.84" height="40.36"/>
<rect x="106.36" y="142.91" width="1.84" height="52.19"/>
<rect x="108.67" y="185.38" width="1.84" height="9.72"/>
<rect x="110.99" y="160.60" width="1.84" height="34.50"/>
<rect x="113.31" y="166.95" width="1.84" height="28.15"/>
<rect x="115.63" y="180.15" width="1.84" height="14.95"/>
<rect x="117.94" y="184.89" width="1.84" height="10.21"/>
<rect x="120.26" y="190.49" width="1.84" height="4.61"/>
</g>
<rect x="44.7" y="138.8" width="78.8" height="56.29999999999998" fill="none" stroke="#4a4a4a" stroke-width="0.4"/>
<g stroke="#3a3a3a" stroke-width="0.4">
<path d="M44.7 195.10h0.9M123.5 195.10h-0.9"/>
<path d="M44.7 182.50h0.9M123.5 182.50h-0.9"/>
<path d="M44.7 169.91h0.9M123.5 169.91h-0.9"/>
<path d="M44.7 157.31h0.9M123.5 157.31h-0.9"/>
<path d="M44.7 144.72h0.9M123.5 144.72h-0.9"/>
<path d="M44.70 195.1v-0.9M44.70 138.8v0.9"/>
<path d="M67.88 195.1v-0.9M67.88 138.8v0.9"/>
<path d="M91.05 195.1v-0.9M91.05 138.8v0.9"/>
<path d="M114.23 195.1v-0.9M114.23 138.8v0.9"/>
</g>
<text x="42.2" y="197.714" font-size="4.9" fill="#363636" text-anchor="end" font-weight="normal" stroke="#3a3a3a" stroke-width="0.08">0</text>
<text x="42.2" y="185.11892170022372" font-size="4.9" fill="#363636" text-anchor="end" font-weight="normal" stroke="#3a3a3a" stroke-width="0.08">10</text>
<text x="42.2" y="172.52384340044745" font-size="4.9" fill="#363636" text-anchor="end" font-weight="normal" stroke="#3a3a3a" stroke-width="0.08">20</text>
<text x="42.2" y="159.92876510067114" font-size="4.9" fill="#363636" text-anchor="end" font-weight="normal" stroke="#3a3a3a" stroke-width="0.08">30</text>
<text x="42.2" y="147.33368680089487" font-size="4.9" fill="#363636" text-anchor="end" font-weight="normal" stroke="#3a3a3a" stroke-width="0.08">40</text>
<text x="44.7" y="202.79999999999998" font-size="4.9" fill="#363636" text-anchor="middle" font-weight="normal" stroke="#3a3a3a" stroke-width="0.08">0</text>
<text x="67.87647058823529" y="202.79999999999998" font-size="4.9" fill="#363636" text-anchor="middle" font-weight="normal" stroke="#3a3a3a" stroke-width="0.08">10</text>
<text x="91.05294117647058" y="202.79999999999998" font-size="4.9" fill="#363636" text-anchor="middle" font-weight="normal" stroke="#3a3a3a" stroke-width="0.08">20</text>
<text x="114.22941176470587" y="202.79999999999998" font-size="4.9" fill="#363636" text-anchor="middle" font-weight="normal" stroke="#3a3a3a" stroke-width="0.08">30</text>
<text x="84.1" y="136.4" font-size="5.72" fill="#1a1a1a" text-anchor="middle" font-weight="normal" stroke="#1a1a1a" stroke-width="0.08">Point Cloud # 1 Red Matching Point</text>
<g fill="#e40404" stroke="#5a0000" stroke-width="0.32">
<rect x="151.14" y="147.27" width="1.84" height="47.83"/>
<rect x="153.50" y="175.42" width="1.84" height="19.68"/>
<rect x="155.87" y="180.15" width="1.84" height="14.95"/>
<rect x="158.23" y="177.16" width="1.84" height="17.94"/>
<rect x="160.59" y="177.16" width="1.84" height="17.94"/>
<rect x="162.95" y="154.37" width="1.84" height="40.73"/>
<rect x="165.31" y="170.56" width="1.84" height="24.54"/>
<rect x="167.67" y="187.50" width="1.84" height="7.60"/>
<rect x="170.04" y="188.00" width="1.84" height="7.10"/>
<rect x="172.40" y="187.13" width="1.84" height="7.97"/>
<rect x="174.76" y="154.99" width="1.84" height="40.11"/>
<rect x="177.12" y="148.52" width="1.84" height="46.58"/>
<rect x="179.48" y="178.91" width="1.84" height="16.19"/>
<rect x="181.84" y="184.76" width="1.84" height="10.34"/>
<rect x="184.21" y="179.90" width="1.84" height="15.20"/>
<rect x="186.57" y="166.95" width="1.84" height="28.15"/>
<rect x="188.93" y="170.19" width="1.84" height="24.91"/>
<rect x="191.29" y="179.28" width="1.84" height="15.82"/>
<rect x="193.65" y="189.00" width="1.84" height="6.10"/>
<rect x="196.02" y="176.29" width="1.84" height="18.81"/>
<rect x="198.38" y="181.03" width="1.84" height="14.07"/>
<rect x="200.74" y="143.78" width="1.84" height="51.32"/>
<rect x="203.10" y="186.26" width="1.84" height="8.84"/>
<rect x="205.46" y="174.92" width="1.84" height="20.18"/>
<rect x="207.82" y="172.31" width="1.84" height="22.79"/>
<rect x="210.19" y="163.96" width="1.84" height="31.14"/>
<rect x="212.55" y="142.04" width="1.84" height="53.06"/>
<rect x="214.91" y="188.00" width="1.84" height="7.10"/>
<rect x="217.27" y="159.35" width="1.84" height="35.75"/>
<rect x="219.63" y="161.34" width="1.84" height="33.76"/>
<rect x="221.99" y="177.16" width="1.84" height="17.94"/>
<rect x="224.36" y="184.26" width="1.84" height="10.84"/>
<rect x="226.72" y="189.00" width="1.84" height="6.10"/>
</g>
<rect x="149.7" y="138.8" width="80.30000000000001" height="56.29999999999998" fill="none" stroke="#4a4a4a" stroke-width="0.4"/>
<g stroke="#3a3a3a" stroke-width="0.4">
<path d="M149.7 195.10h0.9M230.0 195.10h-0.9"/>
<path d="M149.7 182.50h0.9M230.0 182.50h-0.9"/>
<path d="M149.7 169.91h0.9M230.0 169.91h-0.9"/>
<path d="M149.7 157.31h0.9M230.0 157.31h-0.9"/>
<path d="M149.7 144.72h0.9M230.0 144.72h-0.9"/>
<path d="M149.70 195.1v-0.9M149.70 138.8v0.9"/>
<path d="M173.32 195.1v-0.9M173.32 138.8v0.9"/>
<path d="M196.94 195.1v-0.9M196.94 138.8v0.9"/>
<path d="M220.55 195.1v-0.9M220.55 138.8v0.9"/>
</g>
<text x="147.2" y="197.714" font-size="4.9" fill="#363636" text-anchor="end" font-weight="normal" stroke="#3a3a3a" stroke-width="0.08">0</text>
<text x="147.2" y="185.11892170022372" font-size="4.9" fill="#363636" text-anchor="end" font-weight="normal" stroke="#3a3a3a" stroke-width="0.08">10</text>
<text x="147.2" y="172.52384340044745" font-size="4.9" fill="#363636" text-anchor="end" font-weight="normal" stroke="#3a3a3a" stroke-width="0.08">20</text>
<text x="147.2" y="159.92876510067114" font-size="4.9" fill="#363636" text-anchor="end" font-weight="normal" stroke="#3a3a3a" stroke-width="0.08">30</text>
<text x="147.2" y="147.33368680089487" font-size="4.9" fill="#363636" text-anchor="end" font-weight="normal" stroke="#3a3a3a" stroke-width="0.08">40</text>
<text x="149.7" y="202.79999999999998" font-size="4.9" fill="#363636" text-anchor="middle" font-weight="normal" stroke="#3a3a3a" stroke-width="0.08">0</text>
<text x="173.31764705882352" y="202.79999999999998" font-size="4.9" fill="#363636" text-anchor="middle" font-weight="normal" stroke="#3a3a3a" stroke-width="0.08">10</text>
<text x="196.93529411764706" y="202.79999999999998" font-size="4.9" fill="#363636" text-anchor="middle" font-weight="normal" stroke="#3a3a3a" stroke-width="0.08">20</text>
<text x="220.5529411764706" y="202.79999999999998" font-size="4.9" fill="#363636" text-anchor="middle" font-weight="normal" stroke="#3a3a3a" stroke-width="0.08">30</text>
<text x="189.85" y="136.4" font-size="5.72" fill="#1a1a1a" text-anchor="middle" font-weight="normal" stroke="#1a1a1a" stroke-width="0.08">Point Cloud # 2 Red Matching Point</text>
<g fill="#0606d6" stroke="#00005a" stroke-width="0.32">
<rect x="46.10" y="235.97" width="1.84" height="38.83"/>
<rect x="48.42" y="253.65" width="1.84" height="21.15"/>
<rect x="50.73" y="253.03" width="1.84" height="21.77"/>
<rect x="53.05" y="254.15" width="1.84" height="20.65"/>
<rect x="55.37" y="256.87" width="1.84" height="17.93"/>
<rect x="57.69" y="230.28" width="1.84" height="44.52"/>
<rect x="60.00" y="258.97" width="1.84" height="15.83"/>
<rect x="62.32" y="264.78" width="1.84" height="10.02"/>
<rect x="64.64" y="257.36" width="1.84" height="17.44"/>
<rect x="66.96" y="265.90" width="1.84" height="8.90"/>
<rect x="69.27" y="247.10" width="1.84" height="27.70"/>
<rect x="71.59" y="245.12" width="1.84" height="29.68"/>
<rect x="73.91" y="253.65" width="1.84" height="21.15"/>
<rect x="76.23" y="259.84" width="1.84" height="14.96"/>
<rect x="78.54" y="258.97" width="1.84" height="15.83"/>
<rect x="80.86" y="259.46" width="1.84" height="15.34"/>
<rect x="83.18" y="250.93" width="1.84" height="23.87"/>
<rect x="85.50" y="255.14" width="1.84" height="19.66"/>
<rect x="87.82" y="262.80" width="1.84" height="12.00"/>
<rect x="90.13" y="256.25" width="1.84" height="18.55"/>
<rect x="92.45" y="257.36" width="1.84" height="17.44"/>
<rect x="94.77" y="218.90" width="1.84" height="55.90"/>
<rect x="97.09" y="264.16" width="1.84" height="10.64"/>
<rect x="99.40" y="261.20" width="1.84" height="13.60"/>
<rect x="101.72" y="253.53" width="1.84" height="21.27"/>
<rect x="104.04" y="243.51" width="1.84" height="31.29"/>
<rect x="106.36" y="238.07" width="1.84" height="36.73"/>
<rect x="108.67" y="257.36" width="1.84" height="17.44"/>
<rect x="110.99" y="226.44" width="1.84" height="48.36"/>
<rect x="113.31" y="253.03" width="1.84" height="21.77"/>
<rect x="115.63" y="248.09" width="1.84" height="26.71"/>
<rect x="117.94" y="268.00" width="1.84" height="6.80"/>
<rect x="120.26" y="266.27" width="1.84" height="8.53"/>
</g>
<rect x="44.7" y="218.9" width="78.8" height="55.900000000000006" fill="none" stroke="#4a4a4a" stroke-width="0.4"/>
<g stroke="#3a3a3a" stroke-width="0.4">
<path d="M44.7 274.80h0.9M123.5 274.80h-0.9"/>
<path d="M44.7 262.29h0.9M123.5 262.29h-0.9"/>
<path d="M44.7 249.79h0.9M123.5 249.79h-0.9"/>
<path d="M44.7 237.28h0.9M123.5 237.28h-0.9"/>
<path d="M44.7 224.78h0.9M123.5 224.78h-0.9"/>
<path d="M44.70 274.8v-0.9M44.70 218.9v0.9"/>
<path d="M67.88 274.8v-0.9M67.88 218.9v0.9"/>
<path d="M91.05 274.8v-0.9M91.05 218.9v0.9"/>
<path d="M114.23 274.8v-0.9M114.23 218.9v0.9"/>
</g>
<text x="42.2" y="277.41400000000004" font-size="4.9" fill="#363636" text-anchor="end" font-weight="normal" stroke="#3a3a3a" stroke-width="0.08">0</text>
<text x="42.2" y="264.9084071588367" font-size="4.9" fill="#363636" text-anchor="end" font-weight="normal" stroke="#3a3a3a" stroke-width="0.08">10</text>
<text x="42.2" y="252.4028143176734" font-size="4.9" fill="#363636" text-anchor="end" font-weight="normal" stroke="#3a3a3a" stroke-width="0.08">20</text>
<text x="42.2" y="239.89722147651008" font-size="4.9" fill="#363636" text-anchor="end" font-weight="normal" stroke="#3a3a3a" stroke-width="0.08">30</text>
<text x="42.2" y="227.39162863534676" font-size="4.9" fill="#363636" text-anchor="end" font-weight="normal" stroke="#3a3a3a" stroke-width="0.08">40</text>
<text x="44.7" y="282.5" font-size="4.9" fill="#363636" text-anchor="middle" font-weight="normal" stroke="#3a3a3a" stroke-width="0.08">0</text>
<text x="67.87647058823529" y="282.5" font-size="4.9" fill="#363636" text-anchor="middle" font-weight="normal" stroke="#3a3a3a" stroke-width="0.08">10</text>
<text x="91.05294117647058" y="282.5" font-size="4.9" fill="#363636" text-anchor="middle" font-weight="normal" stroke="#3a3a3a" stroke-width="0.08">20</text>
<text x="114.22941176470587" y="282.5" font-size="4.9" fill="#363636" text-anchor="middle" font-weight="normal" stroke="#3a3a3a" stroke-width="0.08">30</text>
<text x="84.1" y="216.5" font-size="5.72" fill="#1a1a1a" text-anchor="middle" font-weight="normal" stroke="#1a1a1a" stroke-width="0.08">Point Cloud # 1 Blue Matching Point</text>
<g fill="#0606d6" stroke="#00005a" stroke-width="0.32">
<rect x="151.14" y="238.07" width="1.84" height="36.73"/>
<rect x="153.50" y="262.68" width="1.84" height="12.12"/>
<rect x="155.87" y="258.97" width="1.84" height="15.83"/>
<rect x="158.23" y="255.14" width="1.84" height="19.66"/>
<rect x="160.59" y="259.84" width="1.84" height="14.96"/>
<rect x="162.95" y="232.38" width="1.84" height="42.42"/>
<rect x="165.31" y="263.05" width="1.84" height="11.75"/>
<rect x="167.67" y="252.04" width="1.84" height="22.76"/>
<rect x="170.04" y="257.36" width="1.84" height="17.44"/>
<rect x="172.40" y="266.88" width="1.84" height="7.92"/>
<rect x="174.76" y="232.75" width="1.84" height="42.05"/>
<rect x="177.12" y="231.76" width="1.84" height="43.04"/>
<rect x="179.48" y="255.63" width="1.84" height="19.17"/>
<rect x="181.84" y="263.67" width="1.84" height="11.13"/>
<rect x="184.21" y="256.25" width="1.84" height="18.55"/>
<rect x="186.57" y="251.30" width="1.84" height="23.50"/>
<rect x="188.93" y="253.53" width="1.84" height="21.27"/>
<rect x="191.29" y="253.03" width="1.84" height="21.77"/>
<rect x="193.65" y="263.67" width="1.84" height="11.13"/>
<rect x="196.02" y="270.10" width="1.84" height="4.70"/>
<rect x="198.38" y="254.15" width="1.84" height="20.65"/>
<rect x="200.74" y="227.43" width="1.84" height="47.37"/>
<rect x="203.10" y="269.48" width="1.84" height="5.32"/>
<rect x="205.46" y="248.33" width="1.84" height="26.47"/>
<rect x="207.82" y="256.25" width="1.84" height="18.55"/>
<rect x="210.19" y="253.03" width="1.84" height="21.77"/>
<rect x="212.55" y="232.38" width="1.84" height="42.42"/>
<rect x="214.91" y="264.16" width="1.84" height="10.64"/>
<rect x="217.27" y="220.63" width="1.84" height="54.17"/>
<rect x="219.63" y="257.36" width="1.84" height="17.44"/>
<rect x="221.99" y="243.51" width="1.84" height="31.29"/>
<rect x="224.36" y="263.05" width="1.84" height="11.75"/>
<rect x="226.72" y="270.10" width="1.84" height="4.70"/>
</g>
<rect x="149.7" y="218.9" width="80.30000000000001" height="55.900000000000006" fill="none" stroke="#4a4a4a" stroke-width="0.4"/>
<g stroke="#3a3a3a" stroke-width="0.4">
<path d="M149.7 274.80h0.9M230.0 274.80h-0.9"/>
<path d="M149.7 262.29h0.9M230.0 262.29h-0.9"/>
<path d="M149.7 249.79h0.9M230.0 249.79h-0.9"/>
<path d="M149.7 237.28h0.9M230.0 237.28h-0.9"/>
<path d="M149.7 224.78h0.9M230.0 224.78h-0.9"/>
<path d="M149.70 274.8v-0.9M149.70 218.9v0.9"/>
<path d="M173.32 274.8v-0.9M173.32 218.9v0.9"/>
<path d="M196.94 274.8v-0.9M196.94 218.9v0.9"/>
<path d="M220.55 274.8v-0.9M220.55 218.9v0.9"/>
</g>
<text x="147.2" y="277.41400000000004" font-size="4.9" fill="#363636" text-anchor="end" font-weight="normal" stroke="#3a3a3a" stroke-width="0.08">0</text>
<text x="147.2" y="264.9084071588367" font-size="4.9" fill="#363636" text-anchor="end" font-weight="normal" stroke="#3a3a3a" stroke-width="0.08">10</text>
<text x="147.2" y="252.4028143176734" font-size="4.9" fill="#363636" text-anchor="end" font-weight="normal" stroke="#3a3a3a" stroke-width="0.08">20</text>
<text x="147.2" y="239.89722147651008" font-size="4.9" fill="#363636" text-anchor="end" font-weight="normal" stroke="#3a3a3a" stroke-width="0.08">30</text>
<text x="147.2" y="227.39162863534676" font-size="4.9" fill="#363636" text-anchor="end" font-weight="normal" stroke="#3a3a3a" stroke-width="0.08">40</text>
<text x="149.7" y="282.5" font-size="4.9" fill="#363636" text-anchor="middle" font-weight="normal" stroke="#3a3a3a" stroke-width="0.08">0</text>
<text x="173.31764705882352" y="282.5" font-size="4.9" fill="#363636" text-anchor="middle" font-weight="normal" stroke="#3a3a3a" stroke-width="0.08">10</text>
<text x="196.93529411764706" y="282.5" font-size="4.9" fill="#363636" text-anchor="middle" font-weight="normal" stroke="#3a3a3a" stroke-width="0.08">20</text>
<text x="220.5529411764706" y="282.5" font-size="4.9" fill="#363636" text-anchor="middle" font-weight="normal" stroke="#3a3a3a" stroke-width="0.08">30</text>
<text x="189.85" y="216.5" font-size="5.72" fill="#1a1a1a" text-anchor="middle" font-weight="normal" stroke="#1a1a1a" stroke-width="0.08">Point Cloud # 2 Blue Matching Point</text>
<g fill="#f00000" stroke="#8a0000" stroke-width="0.38">
<rect x="337.53" y="162.72" width="4.10" height="30.88"/>
<rect x="342.71" y="184.45" width="4.10" height="9.15"/>
<rect x="347.90" y="184.45" width="4.10" height="9.15"/>
<rect x="353.08" y="182.39" width="4.10" height="11.21"/>
<rect x="358.26" y="182.16" width="4.10" height="11.44"/>
<rect x="363.44" y="162.49" width="4.10" height="31.11"/>
<rect x="368.63" y="166.61" width="4.10" height="26.99"/>
<rect x="373.81" y="179.88" width="4.10" height="13.73"/>
<rect x="378.99" y="186.97" width="4.10" height="6.63"/>
<rect x="384.17" y="183.08" width="4.10" height="10.52"/>
<rect x="389.36" y="172.56" width="4.10" height="21.05"/>
<rect x="394.54" y="160.20" width="4.10" height="33.40"/>
<rect x="399.72" y="174.84" width="4.10" height="18.76"/>
<rect x="404.90" y="185.36" width="4.10" height="8.24"/>
<rect x="410.09" y="178.96" width="4.10" height="14.64"/>
<rect x="415.27" y="181.93" width="4.10" height="11.67"/>
<rect x="420.45" y="178.27" width="4.10" height="15.33"/>
<rect x="425.63" y="177.59" width="4.10" height="16.01"/>
<rect x="430.81" y="187.88" width="4.10" height="5.72"/>
<rect x="436.00" y="181.93" width="4.10" height="11.67"/>
<rect x="441.18" y="183.99" width="4.10" height="9.61"/>
<rect x="446.36" y="157.91" width="4.10" height="35.69"/>
<rect x="451.54" y="180.79" width="4.10" height="12.81"/>
<rect x="456.73" y="187.19" width="4.10" height="6.41"/>
<rect x="461.91" y="177.36" width="4.10" height="16.24"/>
<rect x="467.09" y="161.35" width="4.10" height="32.25"/>
<rect x="472.27" y="154.03" width="4.10" height="39.57"/>
<rect x="477.46" y="187.19" width="4.10" height="6.41"/>
<rect x="482.64" y="174.38" width="4.10" height="19.22"/>
<rect x="487.82" y="173.47" width="4.10" height="20.13"/>
<rect x="493.00" y="179.88" width="4.10" height="13.73"/>
<rect x="498.19" y="183.31" width="4.10" height="10.29"/>
<rect x="503.37" y="188.11" width="4.10" height="5.49"/>
</g>
<rect x="334.4" y="138.7" width="176.20000000000005" height="54.900000000000006" fill="none" stroke="#4a4a4a" stroke-width="0.4"/>
<g stroke="#3a3a3a" stroke-width="0.4">
<path d="M334.4 193.60h0.9M510.6 193.60h-0.9"/>
<path d="M334.4 175.30h0.9M510.6 175.30h-0.9"/>
<path d="M334.4 157.00h0.9M510.6 157.00h-0.9"/>
<path d="M334.4 138.70h0.9M510.6 138.70h-0.9"/>
<path d="M334.40 193.6v-0.9M334.40 138.7v0.9"/>
<path d="M360.31 193.6v-0.9M360.31 138.7v0.9"/>
<path d="M386.22 193.6v-0.9M386.22 138.7v0.9"/>
<path d="M412.14 193.6v-0.9M412.14 138.7v0.9"/>
<path d="M438.05 193.6v-0.9M438.05 138.7v0.9"/>
<path d="M463.96 193.6v-0.9M463.96 138.7v0.9"/>
<path d="M489.87 193.6v-0.9M489.87 138.7v0.9"/>
</g>
<text x="331.9" y="196.178" font-size="4.8" fill="#363636" text-anchor="end" font-weight="normal" stroke="#3a3a3a" stroke-width="0.08">0</text>
<text x="331.9" y="177.878" font-size="4.8" fill="#363636" text-anchor="end" font-weight="normal" stroke="#3a3a3a" stroke-width="0.08">20</text>
<text x="331.9" y="159.578" font-size="4.8" fill="#363636" text-anchor="end" font-weight="normal" stroke="#3a3a3a" stroke-width="0.08">40</text>
<text x="331.9" y="141.278" font-size="4.8" fill="#363636" text-anchor="end" font-weight="normal" stroke="#3a3a3a" stroke-width="0.08">60</text>
<text x="334.4" y="201.2" font-size="4.8" fill="#363636" text-anchor="middle" font-weight="normal" stroke="#3a3a3a" stroke-width="0.08">0</text>
<text x="360.31176470588235" y="201.2" font-size="4.8" fill="#363636" text-anchor="middle" font-weight="normal" stroke="#3a3a3a" stroke-width="0.08">5</text>
<text x="386.2235294117647" y="201.2" font-size="4.8" fill="#363636" text-anchor="middle" font-weight="normal" stroke="#3a3a3a" stroke-width="0.08">10</text>
<text x="412.13529411764705" y="201.2" font-size="4.8" fill="#363636" text-anchor="middle" font-weight="normal" stroke="#3a3a3a" stroke-width="0.08">15</text>
<text x="438.0470588235294" y="201.2" font-size="4.8" fill="#363636" text-anchor="middle" font-weight="normal" stroke="#3a3a3a" stroke-width="0.08">20</text>
<text x="463.9588235294118" y="201.2" font-size="4.8" fill="#363636" text-anchor="middle" font-weight="normal" stroke="#3a3a3a" stroke-width="0.08">25</text>
<text x="489.8705882352941" y="201.2" font-size="4.8" fill="#363636" text-anchor="middle" font-weight="normal" stroke="#3a3a3a" stroke-width="0.08">30</text>
<text x="422.5" y="136.29999999999998" font-size="5.38" fill="#1a1a1a" text-anchor="middle" font-weight="normal" stroke="#1a1a1a" stroke-width="0.08">Point Cloud # 3 Red Matching Point</text>
<g fill="#f00000" stroke="#8a0000" stroke-width="0.38">
<rect x="337.53" y="263.56" width="4.10" height="8.24"/>
<rect x="342.71" y="270.88" width="4.10" height="0.92"/>
<rect x="347.90" y="271.11" width="4.10" height="0.69"/>
<rect x="353.08" y="268.83" width="4.10" height="2.97"/>
<rect x="358.26" y="246.64" width="4.10" height="25.16"/>
<rect x="363.44" y="233.37" width="4.10" height="38.43"/>
<rect x="368.63" y="235.66" width="4.10" height="36.14"/>
<rect x="373.81" y="235.20" width="4.10" height="36.60"/>
<rect x="378.99" y="253.04" width="4.10" height="18.76"/>
<rect x="384.17" y="266.31" width="4.10" height="5.49"/>
<rect x="389.36" y="264.02" width="4.10" height="7.78"/>
<rect x="394.54" y="253.96" width="4.10" height="17.84"/>
<rect x="399.72" y="259.91" width="4.10" height="11.90"/>
<rect x="404.90" y="268.14" width="4.10" height="3.66"/>
<rect x="410.09" y="267.00" width="4.10" height="4.80"/>
<rect x="415.27" y="249.61" width="4.10" height="22.19"/>
<rect x="420.45" y="253.04" width="4.10" height="18.76"/>
<rect x="425.63" y="248.01" width="4.10" height="23.79"/>
<rect x="430.81" y="258.99" width="4.10" height="12.81"/>
<rect x="436.00" y="255.10" width="4.10" height="16.70"/>
<rect x="441.18" y="238.40" width="4.10" height="33.40"/>
<rect x="446.36" y="256.70" width="4.10" height="15.10"/>
<rect x="451.54" y="271.11" width="4.10" height="0.69"/>
<rect x="456.73" y="252.36" width="4.10" height="19.44"/>
<rect x="461.91" y="224.91" width="4.10" height="46.89"/>
<rect x="467.09" y="232.91" width="4.10" height="38.89"/>
<rect x="472.27" y="247.55" width="4.10" height="24.25"/>
<rect x="477.46" y="267.23" width="4.10" height="4.58"/>
<rect x="482.64" y="251.21" width="4.10" height="20.59"/>
<rect x="487.82" y="249.61" width="4.10" height="22.19"/>
<rect x="493.00" y="267.91" width="4.10" height="3.89"/>
</g>
<rect x="334.4" y="216.9" width="176.20000000000005" height="54.900000000000006" fill="none" stroke="#4a4a4a" stroke-width="0.4"/>
<g stroke="#3a3a3a" stroke-width="0.4">
<path d="M334.4 271.80h0.9M510.6 271.80h-0.9"/>
<path d="M334.4 253.50h0.9M510.6 253.50h-0.9"/>
<path d="M334.4 235.20h0.9M510.6 235.20h-0.9"/>
<path d="M334.4 216.90h0.9M510.6 216.90h-0.9"/>
<path d="M334.40 271.8v-0.9M334.40 216.9v0.9"/>
<path d="M360.31 271.8v-0.9M360.31 216.9v0.9"/>
<path d="M386.22 271.8v-0.9M386.22 216.9v0.9"/>
<path d="M412.14 271.8v-0.9M412.14 216.9v0.9"/>
<path d="M438.05 271.8v-0.9M438.05 216.9v0.9"/>
<path d="M463.96 271.8v-0.9M463.96 216.9v0.9"/>
<path d="M489.87 271.8v-0.9M489.87 216.9v0.9"/>
</g>
<text x="331.9" y="274.37800000000004" font-size="4.8" fill="#363636" text-anchor="end" font-weight="normal" stroke="#3a3a3a" stroke-width="0.08">0</text>
<text x="331.9" y="256.07800000000003" font-size="4.8" fill="#363636" text-anchor="end" font-weight="normal" stroke="#3a3a3a" stroke-width="0.08">20</text>
<text x="331.9" y="237.778" font-size="4.8" fill="#363636" text-anchor="end" font-weight="normal" stroke="#3a3a3a" stroke-width="0.08">40</text>
<text x="331.9" y="219.478" font-size="4.8" fill="#363636" text-anchor="end" font-weight="normal" stroke="#3a3a3a" stroke-width="0.08">60</text>
<text x="334.4" y="279.40000000000003" font-size="4.8" fill="#363636" text-anchor="middle" font-weight="normal" stroke="#3a3a3a" stroke-width="0.08">0</text>
<text x="360.31176470588235" y="279.40000000000003" font-size="4.8" fill="#363636" text-anchor="middle" font-weight="normal" stroke="#3a3a3a" stroke-width="0.08">5</text>
<text x="386.2235294117647" y="279.40000000000003" font-size="4.8" fill="#363636" text-anchor="middle" font-weight="normal" stroke="#3a3a3a" stroke-width="0.08">10</text>
<text x="412.13529411764705" y="279.40000000000003" font-size="4.8" fill="#363636" text-anchor="middle" font-weight="normal" stroke="#3a3a3a" stroke-width="0.08">15</text>
<text x="438.0470588235294" y="279.40000000000003" font-size="4.8" fill="#363636" text-anchor="middle" font-weight="normal" stroke="#3a3a3a" stroke-width="0.08">20</text>
<text x="463.9588235294118" y="279.40000000000003" font-size="4.8" fill="#363636" text-anchor="middle" font-weight="normal" stroke="#3a3a3a" stroke-width="0.08">25</text>
<text x="489.8705882352941" y="279.40000000000003" font-size="4.8" fill="#363636" text-anchor="middle" font-weight="normal" stroke="#3a3a3a" stroke-width="0.08">30</text>
<text x="422.5" y="214.5" font-size="5.38" fill="#1a1a1a" text-anchor="middle" font-weight="normal" stroke="#1a1a1a" stroke-width="0.08">Point Cloud # 4 Red Matching Point</text>
</svg>
</body></html>
